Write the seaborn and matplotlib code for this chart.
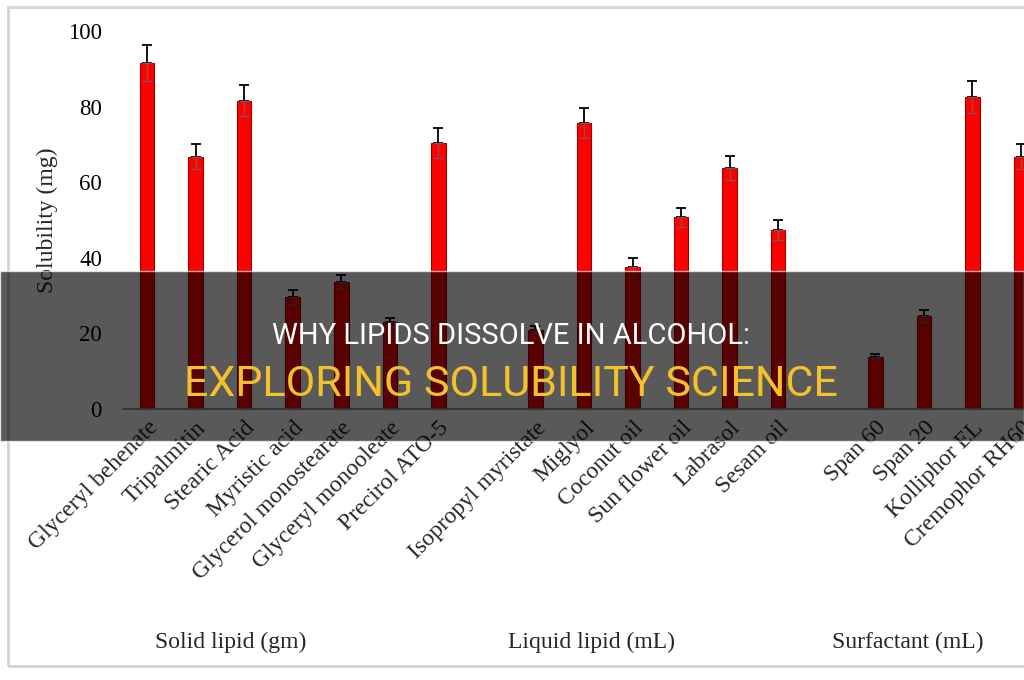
import numpy as np
import pandas as pd
import matplotlib
matplotlib.use("Agg")
import matplotlib.pyplot as plt
import seaborn as sns
from matplotlib.patches import Rectangle

sns.set_theme(style="white")
plt.rcParams['font.family'] = ['Liberation Serif', 'DejaVu Serif']

# Dados
lipidos = ["Glyceryl behenate", "Tripalmitin", "Stearic Acid", "Myristic acid",
           "Glycerol monostearate", "Glyceryl monooleate", "Precirol ATO-5",
           "Isopropyl myristate", "Miglyol", "Coconut oil", "Sun flower oil",
           "Labrasol", "Sesam oil",
           "Span 60", "Span 20", "Kolliphor EL", "Cremophor RH60"]
solubilidade = [91.6, 66.7, 81.6, 29.7, 33.7, 23.0, 70.4,
                21.0, 75.6, 37.6, 50.7, 63.7, 47.4,
                13.8, 24.6, 82.6, 66.7]
desvio = [4.7, 3.3, 4.0, 1.8, 1.7, 1.0, 4.0,
          1.0, 3.9, 2.3, 2.6, 3.1, 2.6,
          0.7, 1.6, 4.3, 3.3]
grupos = ["Solid lipid (gm)", "Liquid lipid (mL)", "Surfactant (mL)"]

# ordem com espaços vazios entre os grupos
ordem = lipidos[:7] + ["_gap1"] + lipidos[7:13] + ["_gap2"] + lipidos[13:]

df = pd.DataFrame({"Material": lipidos, "Solubilidade": solubilidade, "Desvio": desvio})

W, H = 1024, 680
fig = plt.figure(figsize=(W / 100, H / 100), dpi=100)
fig.patch.set_facecolor("white")

# eixo posicionado em pixels
x_left = 122.75
x_right = 1045.25
y_top, y_bot = 31, 409
ax = fig.add_axes([x_left / W, 1 - y_bot / H, (x_right - x_left) / W, (y_bot - y_top) / H])

sns.barplot(data=df, x="Material", y="Solubilidade", order=ordem, color="#ff0000",
            width=0.3, edgecolor="#a00000", linewidth=0.8, errorbar=None,
            saturation=1, ax=ax)

pos = [ordem.index(m) for m in lipidos]
# parte superior da barra de erro (preta) e inferior (cinza sobre a barra)
ax.errorbar(pos, solubilidade, yerr=[np.zeros(len(desvio)), desvio], fmt="none",
            ecolor="black", elinewidth=1.3, capsize=3.5, capthick=1.3, zorder=5)
ax.errorbar(pos, solubilidade, yerr=[desvio, np.zeros(len(desvio))], fmt="none",
            ecolor="#8a5050", elinewidth=1.0, capsize=3.5, capthick=1.0, zorder=5)

ax.set_xlim(-0.5, len(ordem) - 0.5)
ax.set_ylim(0, 100)
ax.set_yticks([0, 20, 40, 60, 80, 100])
ax.tick_params(axis="y", labelsize=16.5, pad=15, length=0, colors="black")
ax.set_xticks(pos)
ax.set_xticklabels(lipidos, rotation=45, ha="right", va="top",
                   rotation_mode="anchor", fontsize=17)
ax.tick_params(axis="x", length=0, pad=6)
ax.set_xlabel("")
ax.set_ylabel("Solubility (mg)", fontsize=17)
ax.yaxis.set_label_coords((58 - x_left) / (x_right - x_left), 0.5)

for s in ["top", "right", "left"]:
    ax.spines[s].set_visible(False)
ax.spines["bottom"].set_color("#888888")
ax.spines["bottom"].set_linewidth(1.2)
ax.grid(False)

# rótulos dos grupos
for txt, xc in zip(grupos, [231, 591, 908]):
    fig.text(xc / W, 1 - 642 / H, txt, ha="center", va="center", fontsize=17)

# moldura cinza clara
fig.patches.append(Rectangle((8 / W, 1 - 666 / H), (W + 20) / W, (666 - 7) / H,
                             transform=fig.transFigure, fill=False,
                             edgecolor="#d4d4d4", linewidth=2, zorder=0))

# faixa escura com o título
fig.patches.append(Rectangle((0, 1 - 441 / H), 1, (441 - 271) / H,
                             transform=fig.transFigure, facecolor="black",
                             alpha=0.65, zorder=10))
fig.text(511 / W, 1 - 336 / H, "WHY LIPIDS DISSOLVE IN ALCOHOL:", ha="center",
         va="center", fontsize=21, color="white", family=["Roboto", "DejaVu Sans"],
         zorder=11)
fig.text(511 / W, 1 - 384 / H, "EXPLORING SOLUBILITY SCIENCE", ha="center",
         va="center", fontsize=31, color="#f5c12a", family=["Roboto", "DejaVu Sans"],
         zorder=11)

plt.savefig("out.png", dpi=100)
